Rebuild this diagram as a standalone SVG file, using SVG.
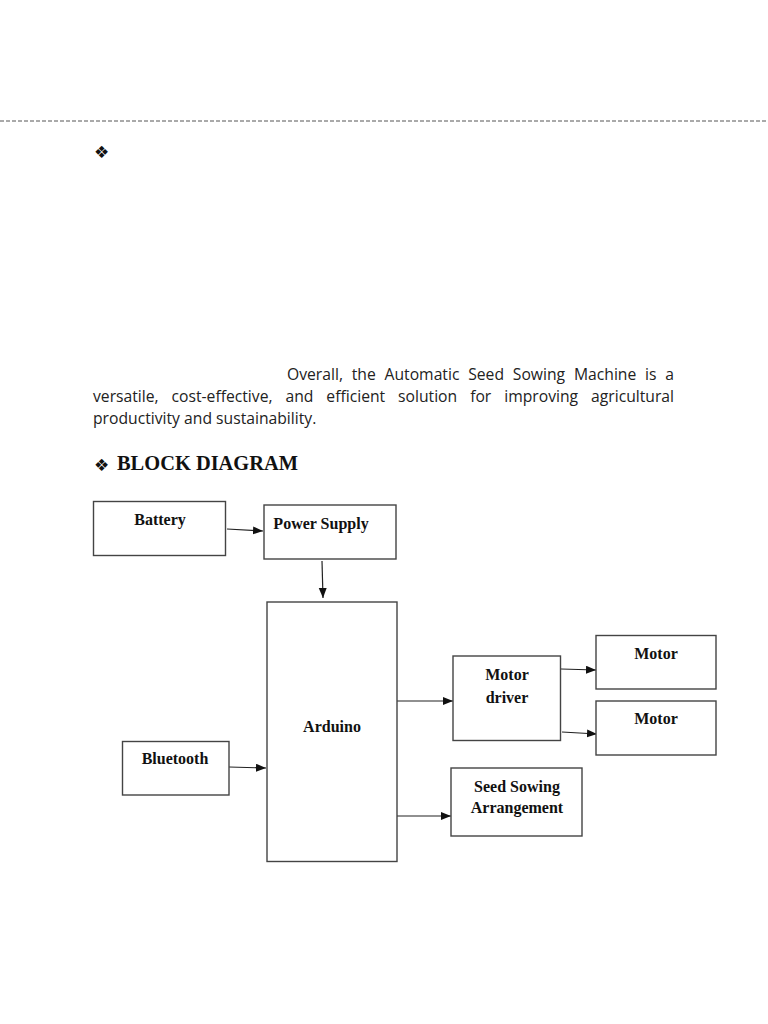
<svg xmlns="http://www.w3.org/2000/svg" width="768" height="1024" viewBox="0 0 768 1024">
  <defs>
    <marker id="arr" markerUnits="userSpaceOnUse" markerWidth="11" markerHeight="9" refX="10" refY="4" orient="auto">
      <path d="M0,0 L10,4 L0,8 z" fill="#111"/>
    </marker>
    <style>
      .box { fill: #fff; stroke: #444; stroke-width: 1.4; }
      .lbl { font-family: "Liberation Serif", "Times New Roman", serif; font-weight: bold; font-size: 16px; fill: #111; }
      .con { stroke: #222; stroke-width: 1.2; fill: none; marker-end: url(#arr); }
      .para { font-family: "Open Sans", "Noto Sans", sans-serif; font-size: 15.7px; fill: #222; }
      .sym { font-family: "DejaVu Sans", sans-serif; fill: #111; }
    </style>
  </defs>
  <rect width="768" height="1024" fill="#fff"/>

  <line x1="0" y1="121" x2="768" y2="121" stroke="#555" stroke-width="1" stroke-dasharray="4 2"/>
  <text class="sym" x="94" y="157.5" font-size="17">❖</text>

  <text class="para" x="287" y="380" word-spacing="4.7" textLength="387" lengthAdjust="spacing">Overall, the Automatic Seed Sowing Machine is a</text>
  <text class="para" x="93" y="402" word-spacing="8.9" textLength="581" lengthAdjust="spacing">versatile, cost-effective, and efficient solution for improving agricultural</text>
  <text class="para" x="93" y="424">productivity and sustainability.</text>

  <text class="sym" x="94" y="470.5" font-size="17">❖</text>
  <text x="117" y="470" font-family="Liberation Serif, 'Times New Roman', serif" font-weight="bold" font-size="20" fill="#111" textLength="181" lengthAdjust="spacingAndGlyphs">BLOCK DIAGRAM</text>

  <g id="connectors">
    <line class="con" x1="227" y1="529" x2="263" y2="531"/>
    <line class="con" x1="322" y1="561" x2="323" y2="598"/>
    <line class="con" x1="229" y1="767" x2="266" y2="768"/>
    <line class="con" x1="397" y1="701" x2="453" y2="701"/>
    <line class="con" x1="397" y1="816" x2="451" y2="816"/>
    <line class="con" x1="561" y1="669" x2="596" y2="670"/>
    <line class="con" x1="562" y1="732" x2="597" y2="734"/>
  </g>

  <g id="battery">
    <rect class="box" x="93.5" y="501.5" width="132" height="54"/>
    <text class="lbl" x="160" y="525" text-anchor="middle">Battery</text>
  </g>
  <g id="power-supply">
    <rect class="box" x="264" y="505" width="132" height="54"/>
    <text class="lbl" x="321" y="529" text-anchor="middle">Power Supply</text>
  </g>
  <g id="arduino">
    <rect class="box" x="267" y="602" width="130" height="259.5"/>
    <text class="lbl" x="332" y="732" text-anchor="middle">Arduino</text>
  </g>
  <g id="bluetooth">
    <rect class="box" x="122.5" y="741.5" width="106.5" height="53.5"/>
    <text class="lbl" x="175" y="764" text-anchor="middle">Bluetooth</text>
  </g>
  <g id="motor-driver">
    <rect class="box" x="453" y="656" width="107.5" height="84.5"/>
    <text class="lbl" x="507" y="680" text-anchor="middle">Motor</text>
    <text class="lbl" x="507" y="703" text-anchor="middle">driver</text>
  </g>
  <g id="motor-1">
    <rect class="box" x="596" y="635.5" width="120" height="53.5"/>
    <text class="lbl" x="656" y="659" text-anchor="middle">Motor</text>
  </g>
  <g id="motor-2">
    <rect class="box" x="596" y="701" width="120" height="54"/>
    <text class="lbl" x="656" y="724" text-anchor="middle">Motor</text>
  </g>
  <g id="seed-sowing">
    <rect class="box" x="451" y="768" width="131" height="68"/>
    <text class="lbl" x="517" y="792" text-anchor="middle">Seed Sowing</text>
    <text class="lbl" x="517" y="813" text-anchor="middle">Arrangement</text>
  </g>
</svg>
